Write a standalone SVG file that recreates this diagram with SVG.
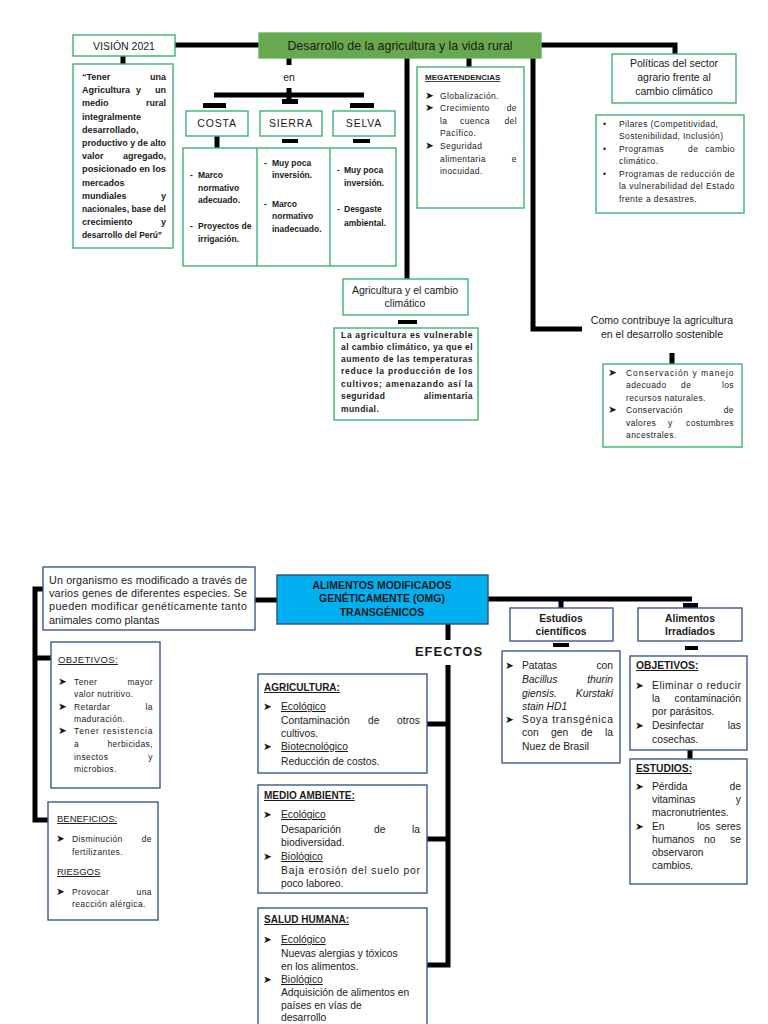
<svg xmlns="http://www.w3.org/2000/svg" width="768" height="1024" viewBox="0 0 768 1024">
<style>
text{font-family:"Liberation Sans",Arial,sans-serif;fill:#1a1a1a}
.g{fill:#fff;stroke:#3cb371;stroke-width:1.4}
.bl{fill:#fff;stroke:#3a5a8c;stroke-width:1.4}
.c{stroke:#000;stroke-width:5;fill:none}
.bar{fill:#000}
.f11{font-size:10.5px}
.vis{font-size:9px;font-weight:bold}
.col{font-size:8.5px;font-weight:bold}
.sm{font-size:8.5px;letter-spacing:0.4px}
.ar{font-family:"DejaVu Sans",sans-serif;font-size:10.5px}
.ul{text-decoration:underline}
.bd{font-weight:bold}
.m{text-anchor:middle}
.e{text-anchor:end}
.b10{font-size:10.3px}
.it{font-style:italic}
</style>

<g id="connectors">
  <path class="c" d="M175 45H259"/>
  <path class="c" d="M123 56V64"/>
  <path class="c" d="M541 45H675V54"/>
  <path class="c" d="M289 58V65"/>
  <path class="c" d="M289 88V101"/>
  <path class="c" d="M214 95H364"/>
  <rect class="bar" x="203" y="103" width="23" height="5"/>
  <rect class="bar" x="282" y="99" width="16" height="5"/>
  <rect class="bar" x="350" y="103" width="24" height="5"/>
  <path class="c" d="M217 136V148"/>
  <rect class="bar" x="282" y="139" width="16" height="4"/>
  <rect class="bar" x="353" y="139" width="17" height="4"/>
  <path class="c" d="M407 58V279"/>
  <path class="c" d="M469 58V67"/>
  <path class="c" d="M533 58V329H582"/>
  <rect class="bar" x="398" y="320" width="19" height="4"/>
  <path class="c" d="M672 353V364"/>

  <path class="c" d="M255 600H277"/>
  <path class="c" d="M43 589H35V820H48"/>
  <path class="c" d="M35 658H51"/>
  <path class="c" d="M488 599H692"/>
  <path class="c" d="M561 599V608"/>
  <rect class="bar" x="683" y="603" width="15" height="5"/>
  <rect class="bar" x="553" y="643" width="16" height="4"/>
  <rect class="bar" x="685" y="646" width="13" height="4"/>
  <path class="c" d="M690 749V759"/>
  <path class="c" d="M448 624V640"/>
  <path class="c" d="M448 665V965H427"/>
  <path class="c" d="M448 724H427"/>
  <path class="c" d="M448 839H427"/>
</g>

<g id="vision">
  <rect class="g" x="73" y="35" width="102" height="21"/>
  <text class="f11 m" x="124" y="50">VISIÓN 2021</text>
</g>

<g id="vision-text">
  <rect class="g" x="73" y="64" width="100" height="184"/>
  <text class="vis" x="82" y="80">“Tener</text><text class="vis e" x="166" y="80">una</text>
  <text class="vis" x="82" y="93.2">Agricultura</text><text class="vis" x="136" y="93.2">y</text><text class="vis e" x="166" y="93.2">un</text>
  <text class="vis" x="82" y="106.4">medio</text><text class="vis e" x="166" y="106.4">rural</text>
  <text class="vis" x="82" y="119.6">integralmente</text>
  <text class="vis" x="82" y="132.8">desarrollado,</text>
  <text class="vis" x="82" y="146" textLength="84" lengthAdjust="spacingAndGlyphs">productivo y de alto</text>
  <text class="vis" x="82" y="159.2">valor</text><text class="vis e" x="166" y="159.2">agregado,</text>
  <text class="vis" x="82" y="172.4" textLength="84" lengthAdjust="spacingAndGlyphs">posicionado en los</text>
  <text class="vis" x="82" y="185.6">mercados</text>
  <text class="vis" x="82" y="198.8">mundiales</text><text class="vis e" x="166" y="198.8">y</text>
  <text class="vis" x="82" y="212" textLength="84" lengthAdjust="spacingAndGlyphs">nacionales, base del</text>
  <text class="vis" x="82" y="225.2">crecimiento</text><text class="vis e" x="166" y="225.2">y</text>
  <text class="vis" x="82" y="238.4" textLength="80" lengthAdjust="spacingAndGlyphs">desarrollo del Perú”</text>
</g>

<g id="main">
  <rect x="259" y="33" width="282" height="25" fill="#6aa84f" stroke="#5cb85c" stroke-width="1.4"/>
  <text class="m" x="400" y="50" font-size="12.4px">Desarrollo de la agricultura y la vida rural</text>
</g>

<g id="en">
  <text class="f11 m" x="289" y="81">en</text>
</g>

<g id="costa">
  <rect class="g" x="186" y="111" width="62" height="25"/>
  <text class="f11 m" x="217" y="127" letter-spacing="0.8">COSTA</text>
</g>
<g id="sierra">
  <rect class="g" x="260" y="111" width="62" height="25"/>
  <text class="f11 m" x="291" y="127" letter-spacing="0.8">SIERRA</text>
</g>
<g id="selva">
  <rect class="g" x="333" y="111" width="62" height="25"/>
  <text class="f11 m" x="364" y="127" letter-spacing="0.8">SELVA</text>
</g>

<g id="regiones-tabla">
  <rect class="g" x="183" y="148" width="213" height="118"/>
  <line x1="257" y1="148" x2="257" y2="266" stroke="#3cb371" stroke-width="1.4"/>
  <line x1="330" y1="148" x2="330" y2="266" stroke="#3cb371" stroke-width="1.4"/>
  <text class="col" x="190" y="178">-</text><text class="col" x="198" y="178">Marco</text>
  <text class="col" x="198" y="191">normativo</text>
  <text class="col" x="198" y="203">adecuado.</text>
  <text class="col" x="190" y="229">-</text><text class="col" x="198" y="229">Proyectos de</text>
  <text class="col" x="198" y="242">irrigación.</text>

  <text class="col" x="264" y="166">-</text><text class="col" x="272" y="166">Muy poca</text>
  <text class="col" x="272" y="178">inversión.</text>
  <text class="col" x="264" y="207">-</text><text class="col" x="272" y="207">Marco</text>
  <text class="col" x="272" y="219">normativo</text>
  <text class="col" x="272" y="232">inadecuado.</text>

  <text class="col" x="337" y="173">-</text><text class="col" x="344" y="173">Muy poca</text>
  <text class="col" x="344" y="186">inversión.</text>
  <text class="col" x="337" y="212">-</text><text class="col" x="344" y="212">Desgaste</text>
  <text class="col" x="344" y="226">ambiental.</text>
</g>

<g id="megatendencias">
  <rect class="g" x="417" y="67" width="107" height="141"/>
  <text class="bd ul" x="425" y="80" font-size="8px">MEGATENDENCIAS</text>
  <text class="ar" x="425" y="99">➤</text><text class="sm" x="440" y="99">Globalización.</text>
  <text class="ar" x="425" y="111">➤</text><text class="sm" x="440" y="111">Crecimiento</text><text class="sm e" x="517" y="111">de</text>
  <text class="sm" x="440" y="124">la</text><text class="sm" x="460" y="124">cuenca</text><text class="sm e" x="517" y="124">del</text>
  <text class="sm" x="440" y="136">Pacífico.</text>
  <text class="ar" x="425" y="149">➤</text><text class="sm" x="440" y="149">Seguridad</text>
  <text class="sm" x="440" y="162">alimentaria</text><text class="sm e" x="517" y="162">e</text>
  <text class="sm" x="440" y="174">inocuidad.</text>
</g>

<g id="politicas">
  <rect class="g" x="612" y="54" width="124" height="49"/>
  <text class="f11 m" x="674" y="67">Políticas del sector</text>
  <text class="f11 m" x="674" y="81">agrario frente al</text>
  <text class="f11 m" x="674" y="95">cambio climático</text>
</g>

<g id="pilares">
  <rect class="g" x="596" y="115" width="148" height="98"/>
  <text class="sm" x="603" y="127">•</text><text class="sm" x="619" y="127">Pilares (Competitividad,</text>
  <text class="sm" x="619" y="139">Sostenibilidad, Inclusión)</text>
  <text class="sm" x="603" y="152">•</text><text class="sm" x="619" y="152">Programas</text><text class="sm" x="688" y="152">de</text><text class="sm e" x="735" y="152">cambio</text>
  <text class="sm" x="619" y="164">climático.</text>
  <text class="sm" x="603" y="177">•</text><text class="sm" x="619" y="177" textLength="116" lengthAdjust="spacing">Programas de reducción de</text>
  <text class="sm" x="619" y="189" textLength="116" lengthAdjust="spacing">la vulnerabilidad del Estado</text>
  <text class="sm" x="619" y="202">frente a desastres.</text>
</g>

<g id="agri-cambio">
  <rect class="g" x="343" y="279" width="125" height="36"/>
  <text class="f11 m" x="405" y="294">Agricultura y el cambio</text>
  <text class="f11 m" x="405" y="307">climático</text>
</g>

<g id="agri-cambio-texto">
  <rect class="g" x="334" y="328" width="144" height="92"/>
  <text class="sm bd" font-size="8px" x="341" y="338" textLength="132" lengthAdjust="spacing">La agricultura es vulnerable</text>
  <text class="sm bd" font-size="8px" x="341" y="350" textLength="132" lengthAdjust="spacing">al cambio climático, ya que el</text>
  <text class="sm bd" font-size="8px" x="341" y="362" textLength="132" lengthAdjust="spacing">aumento de las temperaturas</text>
  <text class="sm bd" font-size="8px" x="341" y="374" textLength="132" lengthAdjust="spacing">reduce la producción de los</text>
  <text class="sm bd" font-size="8px" x="341" y="387" textLength="132" lengthAdjust="spacing">cultivos; amenazando así la</text>
  <text class="sm bd" font-size="8px" x="341" y="399">seguridad</text><text class="sm bd e" font-size="8px" x="473" y="399">alimentaria</text>
  <text class="sm bd" font-size="8px" x="341" y="412">mundial.</text>
</g>

<g id="como-contribuye">
  <text class="m" font-size="10.5px" x="662" y="324">Como contribuye la agricultura</text>
  <text class="m" font-size="10.5px" x="662" y="338">en el desarrollo sostenible</text>
</g>

<g id="como-texto">
  <rect class="g" x="603" y="364" width="139" height="83"/>
  <text class="ar" x="608" y="376">➤</text><text class="sm" x="626" y="376" textLength="108" lengthAdjust="spacing">Conservación y manejo</text>
  <text class="sm" x="626" y="388">adecuado</text><text class="sm" x="681" y="388">de</text><text class="sm e" x="734" y="388">los</text>
  <text class="sm" x="626" y="401">recursos naturales.</text>
  <text class="ar" x="608" y="413">➤</text><text class="sm" x="626" y="413">Conservación</text><text class="sm e" x="734" y="413">de</text>
  <text class="sm" x="626" y="426">valores</text><text class="sm" x="668" y="426">y</text><text class="sm e" x="734" y="426">costumbres</text>
  <text class="sm" x="626" y="438">ancestrales.</text>
</g>

<g id="organismo">
  <rect class="bl" x="43" y="567" width="212" height="63"/>
  <text font-size="10.8px" x="49" y="584" textLength="198" lengthAdjust="spacing">Un organismo es modificado a través de</text>
  <text font-size="10.8px" x="49" y="597" textLength="198" lengthAdjust="spacing">varios genes de diferentes especies. Se</text>
  <text font-size="10.8px" x="49" y="610" textLength="198" lengthAdjust="spacing">pueden modificar genéticamente tanto</text>
  <text font-size="10.8px" x="49" y="624">animales como plantas</text>
</g>

<g id="omg">
  <rect x="277" y="575" width="211" height="49" fill="#00b0f0" stroke="#2f4f7f" stroke-width="1.4"/>
  <text class="bd m" font-size="10.5px" x="382" y="589" fill="#1c1c3c">ALIMENTOS MODIFICADOS</text>
  <text class="bd m" font-size="10.5px" x="382" y="602" fill="#1c1c3c">GENÉTICAMENTE (OMG)</text>
  <text class="bd m" font-size="10.5px" x="382" y="616" fill="#1c1c3c">TRANSGÉNICOS</text>
</g>

<g id="objetivos-omg">
  <rect class="bl" x="51" y="642" width="109" height="146"/>
  <text class="ul" font-size="9.5px" letter-spacing="0.4" x="58" y="663">OBJETIVOS:</text>
  <text class="ar" x="58" y="685">➤</text><text class="sm" font-size="9px" x="74" y="685">Tener</text><text class="sm e" font-size="9px" x="153" y="685">mayor</text>
  <text class="sm" font-size="9px" x="74" y="697">valor nutritivo.</text>
  <text class="ar" x="58" y="710">➤</text><text class="sm" font-size="9px" x="74" y="710">Retardar</text><text class="sm e" font-size="9px" x="153" y="710">la</text>
  <text class="sm" font-size="9px" x="74" y="722">maduración.</text>
  <text class="ar" x="58" y="734">➤</text><text class="sm" font-size="9px" x="74" y="734" textLength="79" lengthAdjust="spacing">Tener resistencia</text>
  <text class="sm" font-size="9px" x="74" y="747">a</text><text class="sm e" font-size="9px" x="153" y="747">herbicidas,</text>
  <text class="sm" font-size="9px" x="74" y="760">insectos</text><text class="sm e" font-size="9px" x="153" y="760">y</text>
  <text class="sm" font-size="9px" x="74" y="772">microbios.</text>
</g>

<g id="beneficios-riesgos">
  <rect class="bl" x="48" y="802" width="110" height="118"/>
  <text class="ul" font-size="9.5px" x="57" y="822">BENEFICIOS:</text>
  <text class="ar" x="56" y="842">➤</text><text class="sm" font-size="9px" x="72" y="842">Disminución</text><text class="sm e" font-size="9px" x="152" y="842">de</text>
  <text class="sm" font-size="9px" x="72" y="855">fertilizantes.</text>
  <text class="ul" font-size="9.5px" x="57" y="875">RIESGOS</text>
  <text class="ar" x="56" y="895">➤</text><text class="sm" font-size="9px" x="72" y="895">Provocar</text><text class="sm e" font-size="9px" x="152" y="895">una</text>
  <text class="sm" font-size="9px" x="72" y="907">reacción alérgica.</text>
</g>

<g id="efectos">
  <text class="bd m" font-size="13px" letter-spacing="1" x="449" y="656" fill="#333">EFECTOS</text>
</g>

<g id="agricultura">
  <rect class="bl" x="258" y="674" width="169" height="99"/>
  <text class="bd ul" font-size="10px" x="264" y="691">AGRICULTURA:</text>
  <text class="ar" x="263" y="710">➤</text><text class="b10 ul" x="281" y="710">Ecológico</text>
  <text class="b10" x="281" y="724">Contaminación</text><text class="b10" x="368" y="724">de</text><text class="b10 e" x="420" y="724">otros</text>
  <text class="b10" x="281" y="737">cultivos.</text>
  <text class="ar" x="263" y="750">➤</text><text class="b10 ul" x="281" y="750">Biotecnológico</text>
  <text class="b10" x="281" y="765">Reducción de costos.</text>
</g>

<g id="medio-ambiente">
  <rect class="bl" x="258" y="785" width="169" height="108"/>
  <text class="bd ul" font-size="10px" x="264" y="799">MEDIO AMBIENTE:</text>
  <text class="ar" x="263" y="818">➤</text><text class="b10 ul" x="281" y="818">Ecológico</text>
  <text class="b10" x="281" y="833">Desaparición</text><text class="b10" x="374" y="833">de</text><text class="b10 e" x="420" y="833">la</text>
  <text class="b10" x="281" y="846">biodiversidad.</text>
  <text class="ar" x="263" y="860">➤</text><text class="b10 ul" x="281" y="860">Biológico</text>
  <text class="b10" x="281" y="874" textLength="139" lengthAdjust="spacing">Baja erosión del suelo por</text>
  <text class="b10" x="281" y="887">poco laboreo.</text>
</g>

<g id="salud-humana">
  <rect class="bl" x="258" y="908" width="169" height="130"/>
  <text class="bd ul" font-size="10px" x="264" y="923">SALUD HUMANA:</text>
  <text class="ar" x="263" y="943">➤</text><text class="b10 ul" x="281" y="943">Ecológico</text>
  <text class="b10" x="281" y="957">Nuevas alergias y tóxicos</text>
  <text class="b10" x="281" y="970">en los alimentos.</text>
  <text class="ar" x="263" y="983">➤</text><text class="b10 ul" x="281" y="983">Biológico</text>
  <text class="b10" x="281" y="996">Adquisición de alimentos en</text>
  <text class="b10" x="281" y="1009">países en vías de</text>
  <text class="b10" x="281" y="1021">desarrollo</text>
</g>

<g id="estudios-cientificos">
  <rect class="bl" x="510" y="608" width="103" height="33"/>
  <text class="bd m" font-size="10.3px" x="561" y="622">Estudios</text>
  <text class="bd m" font-size="10.3px" x="561" y="635">científicos</text>
</g>

<g id="estudios-texto">
  <rect class="bl" x="502" y="651" width="118" height="112"/>
  <text class="ar" x="505" y="669">➤</text><text class="b10" x="522" y="669">Patatas</text><text class="b10 e" x="613" y="669">con</text>
  <text class="b10 it" x="522" y="683">Bacillus</text><text class="b10 it e" x="613" y="683">thurin</text>
  <text class="b10 it" x="522" y="697">giensis.</text><text class="b10 it e" x="613" y="697">Kurstaki</text>
  <text class="b10 it" x="522" y="710">stain HD1</text>
  <text class="ar" x="505" y="723">➤</text><text class="b10" x="522" y="723" textLength="91" lengthAdjust="spacing">Soya transgénica</text>
  <text class="b10" x="522" y="736">con</text><text class="b10" x="551" y="736">gen</text><text class="b10" x="581" y="736">de</text><text class="b10 e" x="613" y="736">la</text>
  <text class="b10" x="522" y="750">Nuez de Brasil</text>
</g>

<g id="alimentos-irradiados">
  <rect class="bl" x="638" y="608" width="104" height="33"/>
  <text class="bd m" font-size="10.3px" x="690" y="622">Alimentos</text>
  <text class="bd m" font-size="10.3px" x="690" y="635">Irradiados</text>
</g>

<g id="objetivos-irradiados">
  <rect class="bl" x="630" y="656" width="117" height="94"/>
  <text class="bd ul" font-size="10.3px" x="636" y="669">OBJETIVOS:</text>
  <text class="ar" x="635" y="689">➤</text><text class="b10" x="652" y="689" textLength="89" lengthAdjust="spacing">Eliminar o reducir</text>
  <text class="b10" x="652" y="702">la</text><text class="b10 e" x="741" y="702">contaminación</text>
  <text class="b10" x="652" y="715">por parásitos.</text>
  <text class="ar" x="635" y="729">➤</text><text class="b10" x="652" y="729">Desinfectar</text><text class="b10 e" x="741" y="729">las</text>
  <text class="b10" x="652" y="743">cosechas.</text>
</g>

<g id="estudios-irradiados">
  <rect class="bl" x="630" y="759" width="117" height="125"/>
  <text class="bd ul" font-size="10.3px" x="636" y="772">ESTUDIOS:</text>
  <text class="ar" x="635" y="790">➤</text><text class="b10" x="652" y="790">Pérdida</text><text class="b10 e" x="741" y="790">de</text>
  <text class="b10" x="652" y="803">vitaminas</text><text class="b10 e" x="741" y="803">y</text>
  <text class="b10" x="652" y="816">macronutrientes.</text>
  <text class="ar" x="635" y="830">➤</text><text class="b10" x="652" y="830">En</text><text class="b10" x="697" y="830">los</text><text class="b10 e" x="741" y="830">seres</text>
  <text class="b10" x="652" y="843">humanos</text><text class="b10" x="704" y="843">no</text><text class="b10 e" x="741" y="843">se</text>
  <text class="b10" x="652" y="856">observaron</text>
  <text class="b10" x="652" y="869">cambios.</text>
</g>
</svg>
